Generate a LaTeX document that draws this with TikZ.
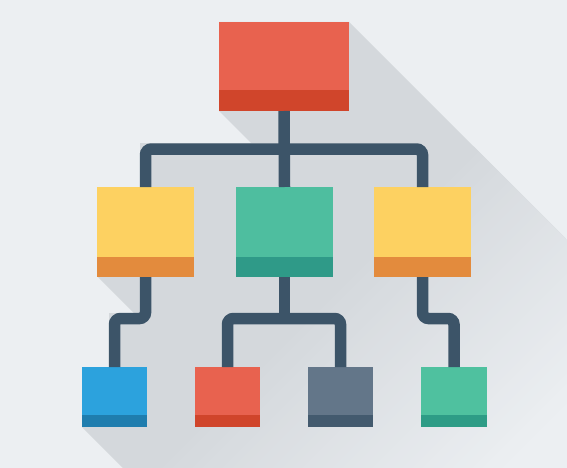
\documentclass[tikz,border=0pt]{standalone}
\usetikzlibrary{calc}
\definecolor{bgc}{HTML}{ECEFF2}
\definecolor{shadowc}{HTML}{D4D8DC}
\definecolor{linec}{HTML}{3C5468}
\definecolor{redc}{HTML}{E8624F}
\definecolor{redd}{HTML}{D0452B}
\definecolor{yelc}{HTML}{FDD161}
\definecolor{yeld}{HTML}{E38B3D}
\definecolor{tealc}{HTML}{4EBE9F}
\definecolor{teald}{HTML}{2F9A88}
\definecolor{bluec}{HTML}{2CA2DD}
\definecolor{blued}{HTML}{1F7DAE}
\definecolor{grayc}{HTML}{637689}
\definecolor{grayd}{HTML}{435A6E}
\definecolor{greenc}{HTML}{4FC19F}
\definecolor{greend}{HTML}{2E9C86}
\tikzset{
  box/.style={draw=none, inner sep=0pt, outer sep=0pt},
  bigbox/.style={box, minimum width=130pt, minimum height=89pt},
  midbox/.style={box, minimum width=96.5pt, minimum height=90pt},
  smallbox/.style={box, minimum width=65.5pt, minimum height=60pt},
  conn/.style={draw=linec, line width=11.5pt, rounded corners=6pt},
}
\begin{document}
\begin{tikzpicture}[x=1pt,y=-1pt]
\useasboundingbox (0,0) rectangle (567,468);
\fill[bgc] (0,0) rectangle (567,468);
% long shadow
\begin{scope}
\clip (0,0) rectangle (567,468);
\clip foreach \a/\b/\c/\d in {
  219/22/349/111, 279/111/290/187, 140/143/428/155,
  140/143/151/187, 417/143/428/188,
  98/187/194/277, 236/187/333/277, 374/187/471/277,
  140/277/151/324, 109/313/151/324, 109/313/120/367,
  279/277/290/324, 222/313/346/324, 222/313/233/367, 335/313/346/367,
  417/277/428/324, 417/313/460/324, 448/313/460/367,
  82/367/147/427, 195/367/260/427, 308/367/373/427, 421/367/487/427}
  {(\a,\b) -- (\c,\b) -- (\c+700,\b+700) -- (\c+700,\d+700) -- (\a+700,\d+700) -- (\a,\d) -- cycle};
\fill[shadowc] (0,0) rectangle (567,468);
\foreach \i in {0,...,35} {
  \pgfmathsetmacro\sa{620+10*\i}
  \pgfmathtruncatemacro\p{100-100*(\i+0.5)/36}
  \fill[shadowc!\p!bgc] (\sa,0) -- (\sa+10.6,0) -- (\sa+10.6-468,468) -- (\sa-468,468) -- cycle;
}
\fill[bgc] (980,0) -- (2000,0) -- (2000,468) -- (512,468) -- cycle;
\end{scope}
% boxes
\node[bigbox, fill=redc] (top) at (284,66.5) {};
\node[midbox, fill=yelc] (lefty) at (145.5,232) {};
\node[midbox, fill=tealc] (teal) at (284.5,232) {};
\node[midbox, fill=yelc] (righty) at (422.5,232) {};
\node[smallbox, fill=bluec] (blueb) at (114.5,397) {};
\node[smallbox, fill=redc] (redb) at (227.5,397) {};
\node[smallbox, fill=grayc] (grayb) at (340.5,397) {};
\node[smallbox, fill=greenc] (greenb) at (454,397) {};
% bands
\fill[redd] ([yshift=21pt]top.south west) rectangle (top.south east);
\fill[yeld] ([yshift=20pt]lefty.south west) rectangle (lefty.south east);
\fill[teald] ([yshift=20pt]teal.south west) rectangle (teal.south east);
\fill[yeld] ([yshift=20pt]righty.south west) rectangle (righty.south east);
\fill[blued] ([yshift=12pt]blueb.south west) rectangle (blueb.south east);
\fill[redd] ([yshift=12pt]redb.south west) rectangle (redb.south east);
\fill[grayd] ([yshift=12pt]grayb.south west) rectangle (grayb.south east);
\fill[greend] ([yshift=12pt]greenb.south west) rectangle (greenb.south east);
% junctions
\coordinate (bar) at (284.5,149);
\coordinate (jl) at (130,318.5);
\coordinate (jm) at (284.5,318.5);
\coordinate (jr) at (438,318.5);
% connectors
\draw[conn] (top.south) -- (teal.north);
\draw[conn] (lefty.north) |- (bar) -| (righty.north);
\draw[conn] (lefty.south) |- (jl) -| (blueb.north);
\draw[conn] (teal.south) -- (jm);
\draw[conn] (redb.north) |- (jm) -| (grayb.north);
\draw[conn] (righty.south) |- (jr) -| (greenb.north);
\end{tikzpicture}
\end{document}
